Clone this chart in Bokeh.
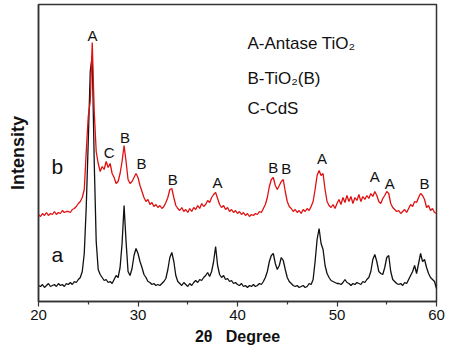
import numpy as np
from bokeh.plotting import figure
from bokeh.models import ColumnDataSource, FixedTicker, Range1d
from bokeh.core.properties import value
from bokeh.embed import file_html
from bokeh.resources import INLINE

# 2-theta grid (degrees)
two_theta = [round(20 + 0.2 * i, 1) for i in range(201)]

# sample a (black)
intensity_a = [
    16, 15, 17, 14, 16, 18, 15, 16, 17, 15, 18, 16, 17, 15, 18, 17, 19, 17, 20, 19,
    22, 24, 30, 48, 95, 160, 230, 246, 140, 60, 32, 27, 24, 21, 22, 19, 20, 18, 22, 26,
    24, 34, 58, 96, 60, 30, 26, 33, 46, 53, 48, 40, 34, 27, 24, 20, 19, 17, 18, 16,
    17, 16, 18, 20, 23, 32, 44, 49, 40, 26, 20, 18, 16, 19, 17, 15, 18, 16, 19, 21,
    19, 22, 21, 24, 26, 29, 25, 30, 40, 55, 36, 27, 24, 26, 22, 23, 20, 21, 18, 19,
    17, 16, 18, 15, 16, 14, 16, 15, 17, 15, 16, 18, 17, 20, 24, 30, 40, 46, 48, 38,
    32, 36, 44, 41, 32, 24, 20, 18, 16, 15, 16, 14, 15, 16, 14, 15, 18, 17, 22, 40,
    62, 73, 58, 52, 36, 28, 24, 21, 20, 19, 18, 18, 17, 19, 22, 19, 18, 16, 18, 17,
    19, 18, 17, 20, 19, 22, 24, 30, 42, 47, 40, 30, 28, 27, 34, 44, 46, 30, 22, 20,
    18, 17, 18, 16, 19, 18, 22, 26, 30, 36, 28, 38, 48, 40, 42, 34, 28, 24, 22, 20,
    13,
]

# sample b (red)
intensity_b = [
    87, 85, 88, 86, 89, 86, 88, 87, 90, 87, 89, 88, 91, 89, 90, 90, 89, 92, 93, 95,
    98, 100, 104, 112, 150, 185, 200, 259, 190, 150, 138, 130, 135, 132, 140, 134, 138, 128, 124, 118,
    120, 128, 140, 156, 140, 122, 118, 120, 124, 128, 124, 116, 110, 104, 100, 102, 97, 99, 95, 97,
    94, 96, 93, 95, 99, 104, 112, 113, 104, 96, 93, 91, 94, 90, 92, 89, 93, 90, 94, 92,
    96, 93, 98, 95, 97, 101, 99, 104, 107, 109, 103, 97, 94, 96, 92, 94, 90, 92, 89, 91,
    88, 90, 87, 89, 86, 88, 85, 87, 86, 88, 87, 90, 89, 93, 97, 104, 115, 122, 124, 116,
    112, 116, 120, 122, 110, 100, 95, 93, 90, 92, 89, 91, 88, 92, 90, 93, 91, 95, 100, 112,
    126, 131, 126, 128, 112, 100, 96, 94, 97, 93, 98, 102, 97, 104, 99, 106, 100, 105, 98, 104,
    101, 107, 100, 105, 102, 106, 103, 108, 105, 110, 106, 100, 98, 103, 106, 110, 108, 98, 94, 92,
    90, 91, 88, 90, 92, 89, 93, 97, 95, 100, 99, 104, 108, 106, 102, 94, 96, 91, 93, 89,
    88,
]

# phase labels over the peaks
peak_labels = ["A", "C", "B", "B", "B", "A", "B", "B", "A", "A", "A", "B"]
peak_pos = [25.43, 27.1, 28.7, 30.35, 33.5, 38.0, 43.6, 44.9, 48.5, 53.8, 55.3, 58.8]
peak_label_y = [266, 149, 164, 138, 122, 119, 134, 133, 143, 125, 118, 118]

sample_labels = ["b", "a"]
sample_label_x = [21.9, 21.9]
sample_label_y = [135, 47]

legend_lines = ["A-Antase TiO\u2082", "B-TiO\u2082(B)", "C-CdS"]
legend_x = [41.0, 41.0, 41.0]
legend_y = [258, 223, 193]

x_ticks = [20, 30, 40, 50, 60]
x_minor = [25, 35, 45, 55]

FONT = "Liberation Sans"

p = figure(
    width=474, height=353,
    x_range=Range1d(20, 60), y_range=Range1d(0, 297),
    output_backend="svg", toolbar_location=None,
    min_border_left=38, min_border_right=38, min_border_top=4, min_border_bottom=52,
    background_fill_color="white", border_fill_color="white",
)
p.grid.visible = False
p.outline_line_color = "#333333"
p.outline_line_width = 1.5

p.line(two_theta, intensity_a, line_color="#111111", line_width=1.3)
p.line(two_theta, intensity_b, line_color="#e01010", line_width=1.3)

src_peaks = ColumnDataSource(dict(x=peak_pos, y=peak_label_y, t=peak_labels))
p.text(x="x", y="y", text="t", source=src_peaks, text_font=value(FONT),
       text_font_size="15px", text_align="center", text_baseline="middle",
       text_color="#111111")

src_samples = ColumnDataSource(dict(x=sample_label_x, y=sample_label_y, t=sample_labels))
p.text(x="x", y="y", text="t", source=src_samples, text_font=value(FONT),
       text_font_size="21px", text_align="center", text_baseline="middle",
       text_color="#111111")

src_leg = ColumnDataSource(dict(x=legend_x, y=legend_y, t=legend_lines))
p.text(x="x", y="y", text="t", source=src_leg, text_font=value(FONT),
       text_font_size="17px", text_align="left", text_baseline="middle",
       text_color="#111111")

xa = p.xaxis[0]
xa.ticker = FixedTicker(ticks=x_ticks, minor_ticks=x_minor)
xa.major_tick_out = 5
xa.major_tick_in = 0
xa.minor_tick_out = 3
xa.minor_tick_in = 0
xa.major_label_text_font = FONT
xa.major_label_text_font_size = "15px"
xa.major_label_text_color = "#111111"
xa.major_label_standoff = 3
xa.axis_label = "2\u03b8\u00a0\u00a0\u00a0Degree"
xa.axis_label_text_font = FONT
xa.axis_label_text_font_style = "bold"
xa.axis_label_text_font_size = "16px"
xa.axis_label_text_color = "#111111"
xa.axis_label_standoff = 5
xa.axis_line_color = "#333333"
xa.axis_line_width = 1.5
xa.major_tick_line_color = "#333333"
xa.minor_tick_line_color = "#333333"
xa.major_tick_line_width = 1.2
xa.minor_tick_line_width = 1.2

ya = p.yaxis[0]
ya.ticker = FixedTicker(ticks=[])
ya.major_label_text_font_size = "0px"
ya.major_tick_out = 0
ya.minor_tick_out = 0
ya.axis_label = "Intensity"
ya.axis_label_text_font = FONT
ya.axis_label_text_font_style = "bold"
ya.axis_label_text_font_size = "18px"
ya.axis_label_text_color = "#111111"
ya.axis_label_standoff = 11
ya.axis_line_color = "#333333"
ya.axis_line_width = 1.5

open("out.html", "w").write(file_html(p, INLINE))
